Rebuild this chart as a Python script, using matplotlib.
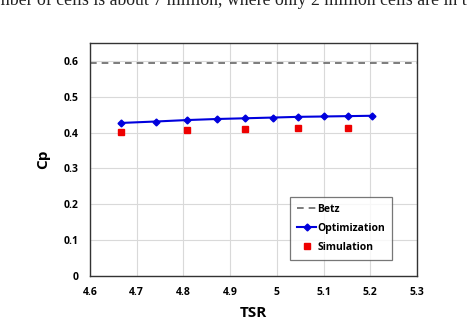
import matplotlib
matplotlib.use('Agg')
import matplotlib.pyplot as plt

# data
tsr_opt = [4.667, 4.741, 4.807, 4.872, 4.932, 4.991, 5.046, 5.100, 5.152, 5.203]
cp_opt = [0.427, 0.431, 0.435, 0.438, 0.440, 0.442, 0.444, 0.445, 0.446, 0.447]
tsr_sim = [4.667, 4.807, 4.932, 5.046, 5.152]
cp_sim = [0.403, 0.408, 0.411, 0.413, 0.413]
betz = 0.593
x_ticks = [4.6, 4.7, 4.8, 4.9, 5.0, 5.1, 5.2, 5.3]
y_ticks = [0, 0.1, 0.2, 0.3, 0.4, 0.5, 0.6]

plt.rcParams['font.family'] = ['Open Sans', 'DejaVu Sans']

fig = plt.figure(figsize=(4.74, 3.29), dpi=100)
ax = fig.add_axes([90 / 474, 53 / 329, 327 / 474, 233 / 329])

# cut-off line of the paper text above the chart
fig.text(-4 / 474, 1 - 5 / 329,
         'mber of cells is about 7 million, where only 2 million cells are in t',
         family='Liberation Serif', fontsize=12.8, va='baseline', ha='left', color='#222222')

ax.axhline(betz, color='#666666', ls=(0, (4, 3)), lw=1.2, label='Betz')
ax.plot(tsr_opt, cp_opt, color='#0000dd', marker='D', markersize=3.5, lw=1.5, label='Optimization')
ax.plot(tsr_sim, cp_sim, ls='none', color='#ee0000', marker='s', markersize=5, label='Simulation')

ax.set_xlim(4.6, 5.3)
ax.set_ylim(0, 0.65)
ax.set_xticks(x_ticks)
ax.set_xticklabels([f'{v:g}' for v in x_ticks])
ax.set_yticks(y_ticks)
ax.set_yticklabels([f'{v:g}' for v in y_ticks])
ax.tick_params(length=0, labelsize=7.5, pad=8)
for lbl in ax.get_xticklabels() + ax.get_yticklabels():
    lbl.set_fontweight('bold')
ax.grid(True, color='#d9d9d9', lw=0.8)
ax.set_axisbelow(True)
for sp in ax.spines.values():
    sp.set_color('#333333')
    sp.set_linewidth(1.0)

ax.set_xlabel('TSR', fontsize=11, fontweight='bold', labelpad=6)
ax.set_ylabel('Cp', fontsize=11, fontweight='bold', labelpad=10)

leg = ax.legend(loc='lower right', bbox_to_anchor=(0.924, 0.069), borderaxespad=0,
                fontsize=7.5, frameon=True, fancybox=False, edgecolor='#555555',
                handlelength=1.8, handletextpad=0.1, labelspacing=0.75, borderpad=0.7)
leg.get_frame().set_linewidth(0.9)
for t in leg.get_texts():
    t.set_fontweight('bold')

plt.savefig('out.png', dpi=100)
